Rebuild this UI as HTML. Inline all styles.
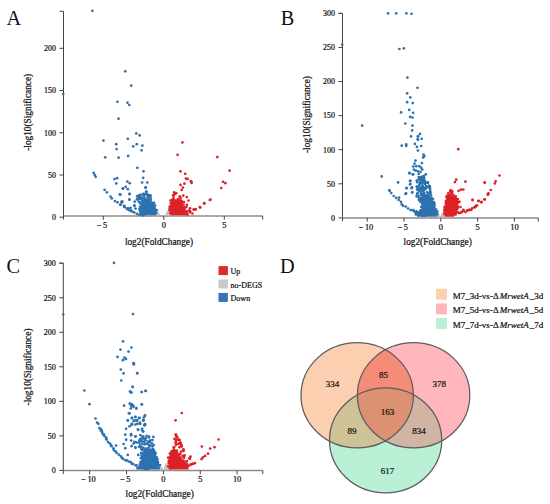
<!DOCTYPE html>
<html><head><meta charset="utf-8"><style>
html,body{margin:0;padding:0;background:#fff;}
svg{display:block;font-family:"Liberation Serif",serif;} text{fill:#111;stroke:#111;stroke-width:0.22px;}
</style></head><body>
<svg width="550" height="504" viewBox="0 0 550 504">
<rect width="550" height="504" fill="#fff"/>
<text x="6.60" y="25.20" font-size="20.3" text-anchor="start" style="stroke-width:0">A</text>
<line x1="63.50" y1="11.30" x2="63.50" y2="216.50" stroke="#444" stroke-width="1.0"/>
<line x1="59.50" y1="11.30" x2="63.50" y2="11.30" stroke="#444" stroke-width="1.0"/>
<line x1="59.50" y1="217.20" x2="63.50" y2="217.20" stroke="#444" stroke-width="1.0"/>
<text x="56.00" y="220.00" font-size="8" text-anchor="end" >0</text>
<line x1="59.50" y1="174.97" x2="63.50" y2="174.97" stroke="#444" stroke-width="1.0"/>
<text x="56.00" y="177.78" font-size="8" text-anchor="end" >50</text>
<line x1="59.50" y1="132.75" x2="63.50" y2="132.75" stroke="#444" stroke-width="1.0"/>
<text x="56.00" y="135.55" font-size="8" text-anchor="end" >100</text>
<line x1="59.50" y1="90.52" x2="63.50" y2="90.52" stroke="#444" stroke-width="1.0"/>
<text x="56.00" y="93.32" font-size="8" text-anchor="end" >150</text>
<line x1="59.50" y1="48.30" x2="63.50" y2="48.30" stroke="#444" stroke-width="1.0"/>
<text x="56.00" y="51.10" font-size="8" text-anchor="end" >200</text>
<line x1="63.50" y1="216.00" x2="262.70" y2="216.00" stroke="#8a8a8a" stroke-width="1.5"/>
<line x1="262.70" y1="216.00" x2="262.70" y2="219.50" stroke="#444" stroke-width="1.0"/>
<line x1="63.50" y1="216.00" x2="63.50" y2="219.50" stroke="#444" stroke-width="1.0"/>
<line x1="103.30" y1="216.00" x2="103.30" y2="219.80" stroke="#444" stroke-width="1.0"/>
<text x="102.10" y="227.70" font-size="8.4" text-anchor="middle" >&#8722;<tspan dx="1.4">5</tspan></text>
<line x1="163.80" y1="216.00" x2="163.80" y2="219.80" stroke="#444" stroke-width="1.0"/>
<text x="163.80" y="227.70" font-size="8.4" text-anchor="middle" >0</text>
<line x1="224.30" y1="216.00" x2="224.30" y2="219.80" stroke="#444" stroke-width="1.0"/>
<text x="224.30" y="227.70" font-size="8.4" text-anchor="middle" >5</text>
<text x="124.90" y="244.60" font-size="9.3" text-anchor="start" >log2(FoldChange)</text>
<text x="30.7" y="112.3" font-size="9.3" text-anchor="middle" transform="rotate(-90 30.7 112.3)">-log10(Significance)</text>
<text x="280.70" y="25.00" font-size="20.3" text-anchor="start" style="stroke-width:0">B</text>
<line x1="342.50" y1="13.40" x2="342.50" y2="218.40" stroke="#444" stroke-width="1.0"/>
<line x1="338.50" y1="13.40" x2="342.50" y2="13.40" stroke="#444" stroke-width="1.0"/>
<line x1="338.50" y1="217.90" x2="342.50" y2="217.90" stroke="#444" stroke-width="1.0"/>
<text x="335.00" y="220.70" font-size="8" text-anchor="end" >0</text>
<line x1="338.50" y1="183.81" x2="342.50" y2="183.81" stroke="#444" stroke-width="1.0"/>
<text x="335.00" y="186.62" font-size="8" text-anchor="end" >50</text>
<line x1="338.50" y1="149.73" x2="342.50" y2="149.73" stroke="#444" stroke-width="1.0"/>
<text x="335.00" y="152.53" font-size="8" text-anchor="end" >100</text>
<line x1="338.50" y1="115.65" x2="342.50" y2="115.65" stroke="#444" stroke-width="1.0"/>
<text x="335.00" y="118.45" font-size="8" text-anchor="end" >150</text>
<line x1="338.50" y1="81.56" x2="342.50" y2="81.56" stroke="#444" stroke-width="1.0"/>
<text x="335.00" y="84.36" font-size="8" text-anchor="end" >200</text>
<line x1="338.50" y1="47.48" x2="342.50" y2="47.48" stroke="#444" stroke-width="1.0"/>
<text x="335.00" y="50.28" font-size="8" text-anchor="end" >250</text>
<line x1="338.50" y1="13.39" x2="342.50" y2="13.39" stroke="#444" stroke-width="1.0"/>
<text x="335.00" y="16.19" font-size="8" text-anchor="end" >300</text>
<line x1="342.50" y1="217.90" x2="538.20" y2="217.90" stroke="#8a8a8a" stroke-width="1.5"/>
<line x1="538.20" y1="217.90" x2="538.20" y2="221.40" stroke="#444" stroke-width="1.0"/>
<line x1="342.50" y1="217.90" x2="342.50" y2="221.40" stroke="#444" stroke-width="1.0"/>
<line x1="367.20" y1="217.90" x2="367.20" y2="221.70" stroke="#444" stroke-width="1.0"/>
<text x="366.00" y="229.60" font-size="8.4" text-anchor="middle" >&#8722;<tspan dx="1.4">10</tspan></text>
<line x1="404.00" y1="217.90" x2="404.00" y2="221.70" stroke="#444" stroke-width="1.0"/>
<text x="402.80" y="229.60" font-size="8.4" text-anchor="middle" >&#8722;<tspan dx="1.4">5</tspan></text>
<line x1="440.80" y1="217.90" x2="440.80" y2="221.70" stroke="#444" stroke-width="1.0"/>
<text x="440.80" y="229.60" font-size="8.4" text-anchor="middle" >0</text>
<line x1="477.60" y1="217.90" x2="477.60" y2="221.70" stroke="#444" stroke-width="1.0"/>
<text x="477.60" y="229.60" font-size="8.4" text-anchor="middle" >5</text>
<line x1="514.40" y1="217.90" x2="514.40" y2="221.70" stroke="#444" stroke-width="1.0"/>
<text x="514.40" y="229.60" font-size="8.4" text-anchor="middle" >10</text>
<text x="403.60" y="244.50" font-size="9.3" text-anchor="start" >log2(FoldChange)</text>
<text x="309.9" y="114.5" font-size="9.3" text-anchor="middle" transform="rotate(-90 309.9 114.5)">-log10(Significance)</text>
<text x="6.50" y="273.10" font-size="20.3" text-anchor="start" style="stroke-width:0">C</text>
<line x1="63.30" y1="263.20" x2="63.30" y2="471.10" stroke="#444" stroke-width="1.0"/>
<line x1="59.30" y1="263.20" x2="63.30" y2="263.20" stroke="#444" stroke-width="1.0"/>
<line x1="59.30" y1="470.40" x2="63.30" y2="470.40" stroke="#444" stroke-width="1.0"/>
<text x="55.80" y="473.20" font-size="8" text-anchor="end" >0</text>
<line x1="59.30" y1="435.87" x2="63.30" y2="435.87" stroke="#444" stroke-width="1.0"/>
<text x="55.80" y="438.67" font-size="8" text-anchor="end" >50</text>
<line x1="59.30" y1="401.33" x2="63.30" y2="401.33" stroke="#444" stroke-width="1.0"/>
<text x="55.80" y="404.13" font-size="8" text-anchor="end" >100</text>
<line x1="59.30" y1="366.79" x2="63.30" y2="366.79" stroke="#444" stroke-width="1.0"/>
<text x="55.80" y="369.59" font-size="8" text-anchor="end" >150</text>
<line x1="59.30" y1="332.26" x2="63.30" y2="332.26" stroke="#444" stroke-width="1.0"/>
<text x="55.80" y="335.06" font-size="8" text-anchor="end" >200</text>
<line x1="59.30" y1="297.73" x2="63.30" y2="297.73" stroke="#444" stroke-width="1.0"/>
<text x="55.80" y="300.53" font-size="8" text-anchor="end" >250</text>
<line x1="59.30" y1="263.19" x2="63.30" y2="263.19" stroke="#444" stroke-width="1.0"/>
<text x="55.80" y="265.99" font-size="8" text-anchor="end" >300</text>
<line x1="63.30" y1="470.60" x2="262.80" y2="470.60" stroke="#8a8a8a" stroke-width="1.5"/>
<line x1="262.80" y1="470.60" x2="262.80" y2="474.10" stroke="#444" stroke-width="1.0"/>
<line x1="63.30" y1="470.60" x2="63.30" y2="474.10" stroke="#444" stroke-width="1.0"/>
<line x1="89.70" y1="470.60" x2="89.70" y2="474.40" stroke="#444" stroke-width="1.0"/>
<text x="88.50" y="482.30" font-size="8.4" text-anchor="middle" >&#8722;<tspan dx="1.4">10</tspan></text>
<line x1="126.55" y1="470.60" x2="126.55" y2="474.40" stroke="#444" stroke-width="1.0"/>
<text x="125.35" y="482.30" font-size="8.4" text-anchor="middle" >&#8722;<tspan dx="1.4">5</tspan></text>
<line x1="163.40" y1="470.60" x2="163.40" y2="474.40" stroke="#444" stroke-width="1.0"/>
<text x="163.40" y="482.30" font-size="8.4" text-anchor="middle" >0</text>
<line x1="200.25" y1="470.60" x2="200.25" y2="474.40" stroke="#444" stroke-width="1.0"/>
<text x="200.25" y="482.30" font-size="8.4" text-anchor="middle" >5</text>
<line x1="237.10" y1="470.60" x2="237.10" y2="474.40" stroke="#444" stroke-width="1.0"/>
<text x="237.10" y="482.30" font-size="8.4" text-anchor="middle" >10</text>
<text x="125.60" y="497.00" font-size="9.3" text-anchor="start" >log2(FoldChange)</text>
<text x="30.6" y="367.0" font-size="9.3" text-anchor="middle" transform="rotate(-90 30.6 367.0)">-log10(Significance)</text>
<g id="plots">
<polygon points="156.0,208.5 158.5,212.0 161.0,215.5 156.0,215.5" fill="#c4c4c4"/>
<polygon points="170.0,205.5 170.0,215.5 164.8,215.5 167.0,211.0" fill="#c4c4c4"/>
<polygon points="437.1,213.0 440.3,216.0 443.0,211.5 445.0,209.5 445.0,217.3 437.1,217.3" fill="#c4c4c4"/>
<polygon points="159.5,465.0 163.5,469.0 165.5,463.5 167.5,462.0 168.5,468.3 174.0,468.3 174.0,470.2 159.5,470.2" fill="#c4c4c4"/>
<polygon points="140.5,207.0 142.1,200.8 144.5,198.8 147.8,198.3 151.1,199.8 153.6,202.9 155.5,206.0 156.1,210.0 156.3,215.3 140.0,215.3 139.5,212.0" fill="#2d71ae"/>
<circle cx="140.0" cy="206.8" r="1.35" fill="#2d71ae"/>
<circle cx="140.7" cy="204.1" r="1.35" fill="#2d71ae"/>
<circle cx="141.9" cy="200.9" r="1.35" fill="#2d71ae"/>
<circle cx="144.5" cy="198.2" r="1.35" fill="#2d71ae"/>
<circle cx="147.7" cy="197.7" r="1.35" fill="#2d71ae"/>
<circle cx="150.5" cy="199.2" r="1.35" fill="#2d71ae"/>
<circle cx="154.1" cy="202.8" r="1.35" fill="#2d71ae"/>
<circle cx="155.1" cy="205.5" r="1.35" fill="#2d71ae"/>
<circle cx="156.7" cy="210.2" r="1.35" fill="#2d71ae"/>
<circle cx="156.1" cy="212.8" r="1.35" fill="#2d71ae"/>
<circle cx="140.0" cy="211.4" r="1.35" fill="#2d71ae"/>
<circle cx="139.5" cy="209.2" r="1.35" fill="#2d71ae"/>
<circle cx="138.8" cy="197.7" r="1.35" fill="#2d71ae"/>
<circle cx="149.6" cy="195.9" r="1.35" fill="#2d71ae"/>
<circle cx="140.2" cy="202.7" r="1.35" fill="#2d71ae"/>
<circle cx="143.6" cy="197.7" r="1.35" fill="#2d71ae"/>
<circle cx="147.8" cy="196.8" r="1.35" fill="#2d71ae"/>
<circle cx="138.8" cy="199.1" r="1.35" fill="#2d71ae"/>
<circle cx="148.7" cy="195.6" r="1.35" fill="#2d71ae"/>
<circle cx="144.6" cy="194.0" r="1.35" fill="#2d71ae"/>
<circle cx="147.3" cy="194.3" r="1.35" fill="#2d71ae"/>
<circle cx="141.4" cy="198.7" r="1.35" fill="#2d71ae"/>
<circle cx="144.2" cy="195.8" r="1.35" fill="#2d71ae"/>
<circle cx="148.9" cy="195.2" r="1.35" fill="#2d71ae"/>
<circle cx="140.8" cy="198.8" r="1.35" fill="#2d71ae"/>
<circle cx="150.4" cy="197.3" r="1.35" fill="#2d71ae"/>
<circle cx="143.4" cy="198.3" r="1.35" fill="#2d71ae"/>
<circle cx="139.3" cy="195.9" r="1.35" fill="#2d71ae"/>
<circle cx="140.6" cy="196.7" r="1.35" fill="#2d71ae"/>
<circle cx="143.5" cy="198.5" r="1.35" fill="#2d71ae"/>
<circle cx="143.2" cy="194.9" r="1.35" fill="#2d71ae"/>
<circle cx="124.6" cy="207.2" r="1.35" fill="#2d71ae"/>
<circle cx="127.0" cy="208.9" r="1.35" fill="#2d71ae"/>
<circle cx="128.7" cy="210.0" r="1.35" fill="#2d71ae"/>
<circle cx="130.2" cy="210.6" r="1.35" fill="#2d71ae"/>
<circle cx="132.0" cy="211.6" r="1.35" fill="#2d71ae"/>
<circle cx="134.2" cy="212.4" r="1.35" fill="#2d71ae"/>
<circle cx="136.8" cy="213.8" r="1.35" fill="#2d71ae"/>
<circle cx="139.2" cy="214.6" r="1.35" fill="#2d71ae"/>
<circle cx="141.6" cy="214.8" r="1.35" fill="#2d71ae"/>
<circle cx="143.5" cy="215.5" r="1.35" fill="#2d71ae"/>
<circle cx="92.4" cy="10.8" r="1.35" fill="#2d71ae"/>
<circle cx="63.2" cy="94.0" r="1.35" fill="#2d71ae"/>
<circle cx="125.3" cy="71.3" r="1.35" fill="#2d71ae"/>
<circle cx="131.2" cy="85.6" r="1.35" fill="#2d71ae"/>
<circle cx="117.4" cy="101.8" r="1.35" fill="#2d71ae"/>
<circle cx="127.5" cy="102.7" r="1.35" fill="#2d71ae"/>
<circle cx="129.3" cy="105.0" r="1.35" fill="#2d71ae"/>
<circle cx="118.5" cy="118.7" r="1.35" fill="#2d71ae"/>
<circle cx="136.3" cy="133.4" r="1.35" fill="#2d71ae"/>
<circle cx="139.6" cy="135.4" r="1.35" fill="#2d71ae"/>
<circle cx="127.8" cy="138.8" r="1.35" fill="#2d71ae"/>
<circle cx="103.4" cy="140.6" r="1.35" fill="#2d71ae"/>
<circle cx="116.2" cy="144.2" r="1.35" fill="#2d71ae"/>
<circle cx="116.6" cy="149.1" r="1.35" fill="#2d71ae"/>
<circle cx="136.8" cy="144.2" r="1.35" fill="#2d71ae"/>
<circle cx="133.2" cy="146.3" r="1.35" fill="#2d71ae"/>
<circle cx="142.4" cy="145.6" r="1.35" fill="#2d71ae"/>
<circle cx="141.6" cy="150.3" r="1.35" fill="#2d71ae"/>
<circle cx="105.2" cy="157.3" r="1.35" fill="#2d71ae"/>
<circle cx="118.6" cy="157.7" r="1.35" fill="#2d71ae"/>
<circle cx="128.1" cy="155.9" r="1.35" fill="#2d71ae"/>
<circle cx="137.3" cy="167.8" r="1.35" fill="#2d71ae"/>
<circle cx="143.5" cy="171.3" r="1.35" fill="#2d71ae"/>
<circle cx="93.6" cy="172.9" r="1.35" fill="#2d71ae"/>
<circle cx="94.8" cy="175.0" r="1.35" fill="#2d71ae"/>
<circle cx="95.7" cy="176.8" r="1.35" fill="#2d71ae"/>
<circle cx="114.5" cy="179.1" r="1.35" fill="#2d71ae"/>
<circle cx="117.1" cy="178.2" r="1.35" fill="#2d71ae"/>
<circle cx="116.3" cy="183.4" r="1.35" fill="#2d71ae"/>
<circle cx="143.2" cy="177.8" r="1.35" fill="#2d71ae"/>
<circle cx="127.3" cy="181.6" r="1.35" fill="#2d71ae"/>
<circle cx="129.7" cy="183.2" r="1.35" fill="#2d71ae"/>
<circle cx="142.1" cy="182.5" r="1.35" fill="#2d71ae"/>
<circle cx="147.3" cy="182.5" r="1.35" fill="#2d71ae"/>
<circle cx="145.8" cy="187.3" r="1.35" fill="#2d71ae"/>
<circle cx="125.7" cy="186.8" r="1.35" fill="#2d71ae"/>
<circle cx="123.0" cy="188.4" r="1.35" fill="#2d71ae"/>
<circle cx="127.8" cy="189.2" r="1.35" fill="#2d71ae"/>
<circle cx="104.6" cy="189.8" r="1.35" fill="#2d71ae"/>
<circle cx="106.9" cy="192.3" r="1.35" fill="#2d71ae"/>
<circle cx="146.3" cy="191.6" r="1.35" fill="#2d71ae"/>
<circle cx="119.8" cy="194.4" r="1.35" fill="#2d71ae"/>
<circle cx="129.7" cy="194.0" r="1.35" fill="#2d71ae"/>
<circle cx="110.5" cy="196.5" r="1.35" fill="#2d71ae"/>
<circle cx="111.8" cy="198.4" r="1.35" fill="#2d71ae"/>
<circle cx="137.6" cy="196.3" r="1.35" fill="#2d71ae"/>
<circle cx="129.4" cy="199.5" r="1.35" fill="#2d71ae"/>
<circle cx="115.0" cy="201.1" r="1.35" fill="#2d71ae"/>
<circle cx="117.6" cy="202.3" r="1.35" fill="#2d71ae"/>
<circle cx="121.7" cy="201.6" r="1.35" fill="#2d71ae"/>
<circle cx="120.2" cy="204.8" r="1.35" fill="#2d71ae"/>
<circle cx="124.1" cy="205.9" r="1.35" fill="#2d71ae"/>
<circle cx="128.1" cy="208.3" r="1.35" fill="#2d71ae"/>
<circle cx="134.4" cy="205.9" r="1.35" fill="#2d71ae"/>
<circle cx="140.5" cy="194.7" r="1.35" fill="#2d71ae"/>
<circle cx="143.3" cy="193.9" r="1.35" fill="#2d71ae"/>
<circle cx="146.2" cy="194.5" r="1.35" fill="#2d71ae"/>
<circle cx="150.7" cy="195.5" r="1.35" fill="#2d71ae"/>
<circle cx="134.7" cy="201.7" r="1.35" fill="#2d71ae"/>
<circle cx="138.8" cy="201.7" r="1.35" fill="#2d71ae"/>
<circle cx="134.3" cy="205.4" r="1.35" fill="#2d71ae"/>
<circle cx="135.5" cy="208.6" r="1.35" fill="#2d71ae"/>
<circle cx="129.4" cy="199.6" r="1.35" fill="#2d71ae"/>
<circle cx="129.4" cy="193.9" r="1.35" fill="#2d71ae"/>
<circle cx="146.2" cy="191.9" r="1.35" fill="#2d71ae"/>
<circle cx="145.4" cy="187.8" r="1.35" fill="#2d71ae"/>
<circle cx="122.9" cy="188.6" r="1.35" fill="#2d71ae"/>
<circle cx="120.4" cy="194.7" r="1.35" fill="#2d71ae"/>
<circle cx="122.5" cy="201.7" r="1.35" fill="#2d71ae"/>
<circle cx="121.6" cy="202.5" r="1.35" fill="#2d71ae"/>
<circle cx="120.8" cy="204.5" r="1.35" fill="#2d71ae"/>
<circle cx="124.1" cy="206.2" r="1.35" fill="#2d71ae"/>
<circle cx="127.4" cy="208.6" r="1.35" fill="#2d71ae"/>
<circle cx="130.6" cy="207.8" r="1.35" fill="#2d71ae"/>
<circle cx="131.5" cy="210.7" r="1.35" fill="#2d71ae"/>
<circle cx="137.2" cy="196.2" r="1.35" fill="#2d71ae"/>
<circle cx="139.1" cy="195.5" r="1.35" fill="#2d71ae"/>
<circle cx="136.9" cy="199.4" r="1.35" fill="#2d71ae"/>
<polygon points="170.2,215.3 170.2,204.0 171.0,200.5 174.0,199.5 178.0,199.0 181.0,200.5 183.0,205.0 186.0,211.0 187.5,215.3" fill="#de2127"/>
<circle cx="170.2" cy="213.0" r="1.35" fill="#de2127"/>
<circle cx="169.6" cy="210.2" r="1.35" fill="#de2127"/>
<circle cx="169.9" cy="208.3" r="1.35" fill="#de2127"/>
<circle cx="169.7" cy="206.7" r="1.35" fill="#de2127"/>
<circle cx="170.8" cy="203.3" r="1.35" fill="#de2127"/>
<circle cx="170.5" cy="200.5" r="1.35" fill="#de2127"/>
<circle cx="173.3" cy="199.6" r="1.35" fill="#de2127"/>
<circle cx="178.7" cy="199.0" r="1.35" fill="#de2127"/>
<circle cx="181.3" cy="201.0" r="1.35" fill="#de2127"/>
<circle cx="181.8" cy="202.4" r="1.35" fill="#de2127"/>
<circle cx="183.4" cy="204.5" r="1.35" fill="#de2127"/>
<circle cx="184.4" cy="207.0" r="1.35" fill="#de2127"/>
<circle cx="184.6" cy="208.8" r="1.35" fill="#de2127"/>
<circle cx="186.7" cy="211.4" r="1.35" fill="#de2127"/>
<circle cx="187.2" cy="213.6" r="1.35" fill="#de2127"/>
<circle cx="180.4" cy="200.5" r="1.35" fill="#de2127"/>
<circle cx="173.6" cy="198.4" r="1.35" fill="#de2127"/>
<circle cx="175.1" cy="193.8" r="1.35" fill="#de2127"/>
<circle cx="173.5" cy="195.7" r="1.35" fill="#de2127"/>
<circle cx="173.3" cy="195.4" r="1.35" fill="#de2127"/>
<circle cx="180.7" cy="198.1" r="1.35" fill="#de2127"/>
<circle cx="172.0" cy="199.8" r="1.35" fill="#de2127"/>
<circle cx="181.5" cy="200.9" r="1.35" fill="#de2127"/>
<circle cx="187.3" cy="214.5" r="1.35" fill="#de2127"/>
<circle cx="182.4" cy="142.4" r="1.35" fill="#de2127"/>
<circle cx="177.6" cy="154.8" r="1.35" fill="#de2127"/>
<circle cx="217.3" cy="157.1" r="1.35" fill="#de2127"/>
<circle cx="180.5" cy="171.4" r="1.35" fill="#de2127"/>
<circle cx="185.2" cy="173.8" r="1.35" fill="#de2127"/>
<circle cx="186.0" cy="178.6" r="1.35" fill="#de2127"/>
<circle cx="187.6" cy="178.9" r="1.35" fill="#de2127"/>
<circle cx="190.8" cy="181.0" r="1.35" fill="#de2127"/>
<circle cx="191.6" cy="182.9" r="1.35" fill="#de2127"/>
<circle cx="180.5" cy="184.9" r="1.35" fill="#de2127"/>
<circle cx="184.4" cy="183.7" r="1.35" fill="#de2127"/>
<circle cx="182.9" cy="187.6" r="1.35" fill="#de2127"/>
<circle cx="181.6" cy="190.0" r="1.35" fill="#de2127"/>
<circle cx="174.1" cy="192.4" r="1.35" fill="#de2127"/>
<circle cx="176.2" cy="193.2" r="1.35" fill="#de2127"/>
<circle cx="173.3" cy="195.2" r="1.35" fill="#de2127"/>
<circle cx="179.7" cy="196.3" r="1.35" fill="#de2127"/>
<circle cx="183.2" cy="195.6" r="1.35" fill="#de2127"/>
<circle cx="186.8" cy="197.1" r="1.35" fill="#de2127"/>
<circle cx="209.8" cy="200.0" r="1.35" fill="#de2127"/>
<circle cx="204.3" cy="203.5" r="1.35" fill="#de2127"/>
<circle cx="186.8" cy="204.8" r="1.35" fill="#de2127"/>
<circle cx="200.3" cy="207.5" r="1.35" fill="#de2127"/>
<circle cx="195.6" cy="209.5" r="1.35" fill="#de2127"/>
<circle cx="194.0" cy="209.5" r="1.35" fill="#de2127"/>
<circle cx="190.0" cy="208.3" r="1.35" fill="#de2127"/>
<circle cx="190.0" cy="212.2" r="1.35" fill="#de2127"/>
<circle cx="229.6" cy="170.7" r="1.35" fill="#de2127"/>
<circle cx="223.0" cy="181.8" r="1.35" fill="#de2127"/>
<circle cx="225.4" cy="183.2" r="1.35" fill="#de2127"/>
<circle cx="221.3" cy="188.0" r="1.35" fill="#de2127"/>
<circle cx="191.4" cy="181.8" r="1.35" fill="#de2127"/>
<circle cx="210.5" cy="199.6" r="1.35" fill="#de2127"/>
<circle cx="204.3" cy="203.2" r="1.35" fill="#de2127"/>
<circle cx="199.8" cy="207.1" r="1.35" fill="#de2127"/>
<circle cx="195.7" cy="209.1" r="1.35" fill="#de2127"/>
<circle cx="193.6" cy="209.5" r="1.35" fill="#de2127"/>
<circle cx="190.0" cy="211.2" r="1.35" fill="#de2127"/>
<circle cx="188.5" cy="200.5" r="1.35" fill="#de2127"/>
<circle cx="186.5" cy="207.0" r="1.35" fill="#de2127"/>
<circle cx="184.0" cy="202.0" r="1.35" fill="#de2127"/>
<circle cx="178.0" cy="199.0" r="1.35" fill="#de2127"/>
<circle cx="189.0" cy="210.5" r="1.35" fill="#de2127"/>
<circle cx="192.4" cy="213.5" r="1.35" fill="#de2127"/>
<polygon points="418.5,200.6 423.3,195.9 428.8,194.3 431.2,197.5 433.6,201.4 435.2,206.2 436.7,211.7 437.1,216.8 416.9,216.8 416.9,211.7 420.9,210.2 422.5,203.8" fill="#2d71ae"/>
<circle cx="418.9" cy="200.1" r="1.35" fill="#2d71ae"/>
<circle cx="420.5" cy="198.8" r="1.35" fill="#2d71ae"/>
<circle cx="421.6" cy="198.1" r="1.35" fill="#2d71ae"/>
<circle cx="423.9" cy="195.8" r="1.35" fill="#2d71ae"/>
<circle cx="425.6" cy="195.4" r="1.35" fill="#2d71ae"/>
<circle cx="428.3" cy="193.8" r="1.35" fill="#2d71ae"/>
<circle cx="431.6" cy="198.1" r="1.35" fill="#2d71ae"/>
<circle cx="432.9" cy="199.0" r="1.35" fill="#2d71ae"/>
<circle cx="433.8" cy="202.1" r="1.35" fill="#2d71ae"/>
<circle cx="434.5" cy="203.6" r="1.35" fill="#2d71ae"/>
<circle cx="434.5" cy="205.7" r="1.35" fill="#2d71ae"/>
<circle cx="436.2" cy="209.6" r="1.35" fill="#2d71ae"/>
<circle cx="437.3" cy="211.7" r="1.35" fill="#2d71ae"/>
<circle cx="437.4" cy="214.2" r="1.35" fill="#2d71ae"/>
<circle cx="416.6" cy="213.8" r="1.35" fill="#2d71ae"/>
<circle cx="416.5" cy="211.4" r="1.35" fill="#2d71ae"/>
<circle cx="420.6" cy="210.3" r="1.35" fill="#2d71ae"/>
<circle cx="421.2" cy="206.9" r="1.35" fill="#2d71ae"/>
<circle cx="422.3" cy="204.4" r="1.35" fill="#2d71ae"/>
<circle cx="420.6" cy="202.1" r="1.35" fill="#2d71ae"/>
<circle cx="429.8" cy="186.3" r="1.35" fill="#2d71ae"/>
<circle cx="430.0" cy="188.3" r="1.35" fill="#2d71ae"/>
<circle cx="424.5" cy="188.9" r="1.35" fill="#2d71ae"/>
<circle cx="417.2" cy="186.8" r="1.35" fill="#2d71ae"/>
<circle cx="423.7" cy="193.8" r="1.35" fill="#2d71ae"/>
<circle cx="424.9" cy="184.0" r="1.35" fill="#2d71ae"/>
<circle cx="424.3" cy="189.7" r="1.35" fill="#2d71ae"/>
<circle cx="424.9" cy="182.1" r="1.35" fill="#2d71ae"/>
<circle cx="420.9" cy="195.0" r="1.35" fill="#2d71ae"/>
<circle cx="424.2" cy="189.8" r="1.35" fill="#2d71ae"/>
<circle cx="423.2" cy="191.1" r="1.35" fill="#2d71ae"/>
<circle cx="424.1" cy="188.6" r="1.35" fill="#2d71ae"/>
<circle cx="426.8" cy="187.1" r="1.35" fill="#2d71ae"/>
<circle cx="424.5" cy="187.8" r="1.35" fill="#2d71ae"/>
<circle cx="430.4" cy="193.2" r="1.35" fill="#2d71ae"/>
<circle cx="420.6" cy="189.8" r="1.35" fill="#2d71ae"/>
<circle cx="418.9" cy="179.0" r="1.35" fill="#2d71ae"/>
<circle cx="423.2" cy="177.8" r="1.35" fill="#2d71ae"/>
<circle cx="420.3" cy="177.8" r="1.35" fill="#2d71ae"/>
<circle cx="426.5" cy="195.3" r="1.35" fill="#2d71ae"/>
<circle cx="427.1" cy="192.2" r="1.35" fill="#2d71ae"/>
<circle cx="418.9" cy="197.7" r="1.35" fill="#2d71ae"/>
<circle cx="423.1" cy="188.7" r="1.35" fill="#2d71ae"/>
<circle cx="421.7" cy="180.8" r="1.35" fill="#2d71ae"/>
<circle cx="421.5" cy="193.8" r="1.35" fill="#2d71ae"/>
<circle cx="417.2" cy="189.6" r="1.35" fill="#2d71ae"/>
<circle cx="423.2" cy="176.4" r="1.35" fill="#2d71ae"/>
<circle cx="421.6" cy="191.3" r="1.35" fill="#2d71ae"/>
<circle cx="424.2" cy="177.6" r="1.35" fill="#2d71ae"/>
<circle cx="431.0" cy="195.4" r="1.35" fill="#2d71ae"/>
<circle cx="428.0" cy="182.7" r="1.35" fill="#2d71ae"/>
<circle cx="418.8" cy="186.4" r="1.35" fill="#2d71ae"/>
<circle cx="420.6" cy="179.7" r="1.35" fill="#2d71ae"/>
<circle cx="430.0" cy="190.0" r="1.35" fill="#2d71ae"/>
<circle cx="417.7" cy="192.9" r="1.35" fill="#2d71ae"/>
<circle cx="423.0" cy="177.8" r="1.35" fill="#2d71ae"/>
<circle cx="430.3" cy="191.6" r="1.35" fill="#2d71ae"/>
<circle cx="429.2" cy="187.2" r="1.35" fill="#2d71ae"/>
<circle cx="421.7" cy="189.6" r="1.35" fill="#2d71ae"/>
<circle cx="418.7" cy="189.0" r="1.35" fill="#2d71ae"/>
<circle cx="420.3" cy="178.7" r="1.35" fill="#2d71ae"/>
<circle cx="419.8" cy="183.7" r="1.35" fill="#2d71ae"/>
<circle cx="421.3" cy="194.7" r="1.35" fill="#2d71ae"/>
<circle cx="421.0" cy="188.3" r="1.35" fill="#2d71ae"/>
<circle cx="419.4" cy="184.5" r="1.35" fill="#2d71ae"/>
<circle cx="417.2" cy="182.2" r="1.35" fill="#2d71ae"/>
<circle cx="417.1" cy="194.0" r="1.35" fill="#2d71ae"/>
<circle cx="424.8" cy="180.7" r="1.35" fill="#2d71ae"/>
<circle cx="418.4" cy="196.1" r="1.35" fill="#2d71ae"/>
<circle cx="423.1" cy="188.2" r="1.35" fill="#2d71ae"/>
<circle cx="428.8" cy="185.7" r="1.35" fill="#2d71ae"/>
<circle cx="424.1" cy="192.9" r="1.35" fill="#2d71ae"/>
<circle cx="428.8" cy="193.4" r="1.35" fill="#2d71ae"/>
<circle cx="426.0" cy="186.0" r="1.35" fill="#2d71ae"/>
<circle cx="421.9" cy="177.3" r="1.35" fill="#2d71ae"/>
<circle cx="427.5" cy="182.3" r="1.35" fill="#2d71ae"/>
<circle cx="426.5" cy="182.9" r="1.35" fill="#2d71ae"/>
<circle cx="420.4" cy="183.2" r="1.35" fill="#2d71ae"/>
<circle cx="423.5" cy="179.9" r="1.35" fill="#2d71ae"/>
<circle cx="423.3" cy="182.5" r="1.35" fill="#2d71ae"/>
<circle cx="424.7" cy="182.0" r="1.35" fill="#2d71ae"/>
<circle cx="422.4" cy="187.7" r="1.35" fill="#2d71ae"/>
<circle cx="424.1" cy="180.9" r="1.35" fill="#2d71ae"/>
<circle cx="420.7" cy="178.2" r="1.35" fill="#2d71ae"/>
<circle cx="389.5" cy="190.3" r="1.35" fill="#2d71ae"/>
<circle cx="391.3" cy="193.1" r="1.35" fill="#2d71ae"/>
<circle cx="393.7" cy="196.0" r="1.35" fill="#2d71ae"/>
<circle cx="396.2" cy="197.9" r="1.35" fill="#2d71ae"/>
<circle cx="398.6" cy="200.0" r="1.35" fill="#2d71ae"/>
<circle cx="400.9" cy="201.9" r="1.35" fill="#2d71ae"/>
<circle cx="401.8" cy="204.3" r="1.35" fill="#2d71ae"/>
<circle cx="403.1" cy="205.8" r="1.35" fill="#2d71ae"/>
<circle cx="405.7" cy="206.6" r="1.35" fill="#2d71ae"/>
<circle cx="408.1" cy="208.5" r="1.35" fill="#2d71ae"/>
<circle cx="410.8" cy="210.2" r="1.35" fill="#2d71ae"/>
<circle cx="413.9" cy="211.1" r="1.35" fill="#2d71ae"/>
<circle cx="415.3" cy="212.5" r="1.35" fill="#2d71ae"/>
<circle cx="417.3" cy="213.8" r="1.35" fill="#2d71ae"/>
<circle cx="419.8" cy="214.6" r="1.35" fill="#2d71ae"/>
<circle cx="422.4" cy="215.7" r="1.35" fill="#2d71ae"/>
<circle cx="424.2" cy="215.5" r="1.35" fill="#2d71ae"/>
<circle cx="425.5" cy="215.7" r="1.35" fill="#2d71ae"/>
<circle cx="388.1" cy="13.3" r="1.35" fill="#2d71ae"/>
<circle cx="396.2" cy="13.3" r="1.35" fill="#2d71ae"/>
<circle cx="406.4" cy="13.3" r="1.35" fill="#2d71ae"/>
<circle cx="411.5" cy="13.8" r="1.35" fill="#2d71ae"/>
<circle cx="399.4" cy="49.0" r="1.35" fill="#2d71ae"/>
<circle cx="403.8" cy="48.3" r="1.35" fill="#2d71ae"/>
<circle cx="342.2" cy="44.5" r="1.35" fill="#2d71ae"/>
<circle cx="407.4" cy="77.6" r="1.35" fill="#2d71ae"/>
<circle cx="417.5" cy="87.8" r="1.35" fill="#2d71ae"/>
<circle cx="407.1" cy="93.3" r="1.35" fill="#2d71ae"/>
<circle cx="410.3" cy="97.4" r="1.35" fill="#2d71ae"/>
<circle cx="407.1" cy="102.2" r="1.35" fill="#2d71ae"/>
<circle cx="412.8" cy="103.1" r="1.35" fill="#2d71ae"/>
<circle cx="409.3" cy="109.9" r="1.35" fill="#2d71ae"/>
<circle cx="413.1" cy="112.8" r="1.35" fill="#2d71ae"/>
<circle cx="401.1" cy="112.4" r="1.35" fill="#2d71ae"/>
<circle cx="410.1" cy="116.9" r="1.35" fill="#2d71ae"/>
<circle cx="412.4" cy="117.5" r="1.35" fill="#2d71ae"/>
<circle cx="405.3" cy="123.5" r="1.35" fill="#2d71ae"/>
<circle cx="412.5" cy="125.6" r="1.35" fill="#2d71ae"/>
<circle cx="412.1" cy="130.4" r="1.35" fill="#2d71ae"/>
<circle cx="420.0" cy="133.9" r="1.35" fill="#2d71ae"/>
<circle cx="411.0" cy="136.4" r="1.35" fill="#2d71ae"/>
<circle cx="417.9" cy="136.4" r="1.35" fill="#2d71ae"/>
<circle cx="421.7" cy="138.8" r="1.35" fill="#2d71ae"/>
<circle cx="417.8" cy="139.2" r="1.35" fill="#2d71ae"/>
<circle cx="362.2" cy="125.6" r="1.35" fill="#2d71ae"/>
<circle cx="381.7" cy="176.4" r="1.35" fill="#2d71ae"/>
<circle cx="418.1" cy="136.2" r="1.35" fill="#2d71ae"/>
<circle cx="417.9" cy="139.8" r="1.35" fill="#2d71ae"/>
<circle cx="401.7" cy="145.7" r="1.35" fill="#2d71ae"/>
<circle cx="406.2" cy="144.3" r="1.35" fill="#2d71ae"/>
<circle cx="406.2" cy="146.0" r="1.35" fill="#2d71ae"/>
<circle cx="414.9" cy="143.9" r="1.35" fill="#2d71ae"/>
<circle cx="416.9" cy="146.9" r="1.35" fill="#2d71ae"/>
<circle cx="421.1" cy="146.0" r="1.35" fill="#2d71ae"/>
<circle cx="417.9" cy="150.5" r="1.35" fill="#2d71ae"/>
<circle cx="423.5" cy="154.6" r="1.35" fill="#2d71ae"/>
<circle cx="424.3" cy="156.2" r="1.35" fill="#2d71ae"/>
<circle cx="423.1" cy="157.4" r="1.35" fill="#2d71ae"/>
<circle cx="415.5" cy="160.6" r="1.35" fill="#2d71ae"/>
<circle cx="414.5" cy="163.6" r="1.35" fill="#2d71ae"/>
<circle cx="421.9" cy="163.1" r="1.35" fill="#2d71ae"/>
<circle cx="413.3" cy="166.5" r="1.35" fill="#2d71ae"/>
<circle cx="416.3" cy="166.2" r="1.35" fill="#2d71ae"/>
<circle cx="419.3" cy="166.2" r="1.35" fill="#2d71ae"/>
<circle cx="421.1" cy="167.7" r="1.35" fill="#2d71ae"/>
<circle cx="422.3" cy="169.5" r="1.35" fill="#2d71ae"/>
<circle cx="413.9" cy="169.5" r="1.35" fill="#2d71ae"/>
<circle cx="415.7" cy="170.7" r="1.35" fill="#2d71ae"/>
<circle cx="418.1" cy="171.3" r="1.35" fill="#2d71ae"/>
<circle cx="420.5" cy="171.9" r="1.35" fill="#2d71ae"/>
<circle cx="409.8" cy="173.3" r="1.35" fill="#2d71ae"/>
<circle cx="413.1" cy="174.3" r="1.35" fill="#2d71ae"/>
<circle cx="418.7" cy="174.0" r="1.35" fill="#2d71ae"/>
<circle cx="425.8" cy="174.3" r="1.35" fill="#2d71ae"/>
<circle cx="398.1" cy="182.4" r="1.35" fill="#2d71ae"/>
<circle cx="410.4" cy="180.8" r="1.35" fill="#2d71ae"/>
<circle cx="410.4" cy="183.8" r="1.35" fill="#2d71ae"/>
<circle cx="406.8" cy="188.0" r="1.35" fill="#2d71ae"/>
<circle cx="412.1" cy="187.4" r="1.35" fill="#2d71ae"/>
<circle cx="412.1" cy="192.1" r="1.35" fill="#2d71ae"/>
<circle cx="405.6" cy="193.9" r="1.35" fill="#2d71ae"/>
<circle cx="399.1" cy="197.6" r="1.35" fill="#2d71ae"/>
<circle cx="406.4" cy="188.2" r="1.35" fill="#2d71ae"/>
<circle cx="406.1" cy="193.3" r="1.35" fill="#2d71ae"/>
<circle cx="410.0" cy="180.9" r="1.35" fill="#2d71ae"/>
<circle cx="410.0" cy="184.5" r="1.35" fill="#2d71ae"/>
<circle cx="411.5" cy="188.2" r="1.35" fill="#2d71ae"/>
<circle cx="412.2" cy="192.5" r="1.35" fill="#2d71ae"/>
<circle cx="409.3" cy="172.9" r="1.35" fill="#2d71ae"/>
<circle cx="412.9" cy="174.4" r="1.35" fill="#2d71ae"/>
<circle cx="413.2" cy="210.0" r="1.35" fill="#2d71ae"/>
<circle cx="415.9" cy="214.5" r="1.35" fill="#2d71ae"/>
<circle cx="389.6" cy="190.8" r="1.35" fill="#2d71ae"/>
<polygon points="445.1,207.8 446.7,195.9 449.9,195.1 456.3,196.7 458.6,202.2 457.8,206.2 457.0,211.7 453.9,216.8 444.7,216.8" fill="#de2127"/>
<circle cx="444.5" cy="207.6" r="1.35" fill="#de2127"/>
<circle cx="445.5" cy="205.9" r="1.35" fill="#de2127"/>
<circle cx="445.9" cy="203.2" r="1.35" fill="#de2127"/>
<circle cx="446.0" cy="200.9" r="1.35" fill="#de2127"/>
<circle cx="446.8" cy="197.6" r="1.35" fill="#de2127"/>
<circle cx="446.7" cy="196.2" r="1.35" fill="#de2127"/>
<circle cx="450.1" cy="195.1" r="1.35" fill="#de2127"/>
<circle cx="453.4" cy="195.3" r="1.35" fill="#de2127"/>
<circle cx="455.7" cy="196.4" r="1.35" fill="#de2127"/>
<circle cx="457.8" cy="199.1" r="1.35" fill="#de2127"/>
<circle cx="458.9" cy="201.8" r="1.35" fill="#de2127"/>
<circle cx="457.8" cy="206.9" r="1.35" fill="#de2127"/>
<circle cx="457.4" cy="208.8" r="1.35" fill="#de2127"/>
<circle cx="457.4" cy="212.0" r="1.35" fill="#de2127"/>
<circle cx="455.6" cy="214.4" r="1.35" fill="#de2127"/>
<circle cx="444.5" cy="214.1" r="1.35" fill="#de2127"/>
<circle cx="444.6" cy="212.6" r="1.35" fill="#de2127"/>
<circle cx="444.3" cy="210.1" r="1.35" fill="#de2127"/>
<circle cx="452.2" cy="194.0" r="1.35" fill="#de2127"/>
<circle cx="452.2" cy="191.4" r="1.35" fill="#de2127"/>
<circle cx="450.9" cy="192.5" r="1.35" fill="#de2127"/>
<circle cx="450.5" cy="190.3" r="1.35" fill="#de2127"/>
<circle cx="450.3" cy="191.2" r="1.35" fill="#de2127"/>
<circle cx="448.3" cy="195.6" r="1.35" fill="#de2127"/>
<circle cx="448.3" cy="193.3" r="1.35" fill="#de2127"/>
<circle cx="455.9" cy="212.5" r="1.35" fill="#de2127"/>
<circle cx="459.9" cy="212.9" r="1.35" fill="#de2127"/>
<circle cx="461.7" cy="212.0" r="1.35" fill="#de2127"/>
<circle cx="463.8" cy="210.8" r="1.35" fill="#de2127"/>
<circle cx="465.5" cy="212.1" r="1.35" fill="#de2127"/>
<circle cx="467.7" cy="210.3" r="1.35" fill="#de2127"/>
<circle cx="469.2" cy="209.8" r="1.35" fill="#de2127"/>
<circle cx="472.1" cy="208.4" r="1.35" fill="#de2127"/>
<circle cx="474.9" cy="206.8" r="1.35" fill="#de2127"/>
<circle cx="458.3" cy="149.2" r="1.35" fill="#de2127"/>
<circle cx="456.2" cy="179.7" r="1.35" fill="#de2127"/>
<circle cx="454.9" cy="182.1" r="1.35" fill="#de2127"/>
<circle cx="465.4" cy="181.7" r="1.35" fill="#de2127"/>
<circle cx="484.8" cy="182.5" r="1.35" fill="#de2127"/>
<circle cx="451.1" cy="190.8" r="1.35" fill="#de2127"/>
<circle cx="458.6" cy="190.8" r="1.35" fill="#de2127"/>
<circle cx="461.0" cy="189.7" r="1.35" fill="#de2127"/>
<circle cx="463.3" cy="189.5" r="1.35" fill="#de2127"/>
<circle cx="472.5" cy="200.0" r="1.35" fill="#de2127"/>
<circle cx="478.4" cy="200.8" r="1.35" fill="#de2127"/>
<circle cx="481.6" cy="201.9" r="1.35" fill="#de2127"/>
<circle cx="484.8" cy="199.5" r="1.35" fill="#de2127"/>
<circle cx="487.9" cy="194.0" r="1.35" fill="#de2127"/>
<circle cx="476.0" cy="205.9" r="1.35" fill="#de2127"/>
<circle cx="474.4" cy="207.5" r="1.35" fill="#de2127"/>
<circle cx="469.7" cy="209.8" r="1.35" fill="#de2127"/>
<circle cx="467.3" cy="210.6" r="1.35" fill="#de2127"/>
<circle cx="463.3" cy="209.8" r="1.35" fill="#de2127"/>
<circle cx="461.7" cy="212.2" r="1.35" fill="#de2127"/>
<circle cx="458.6" cy="213.0" r="1.35" fill="#de2127"/>
<circle cx="459.4" cy="201.9" r="1.35" fill="#de2127"/>
<circle cx="457.8" cy="206.7" r="1.35" fill="#de2127"/>
<circle cx="499.5" cy="175.5" r="1.35" fill="#de2127"/>
<circle cx="495.6" cy="181.4" r="1.35" fill="#de2127"/>
<circle cx="494.8" cy="183.5" r="1.35" fill="#de2127"/>
<circle cx="484.6" cy="182.6" r="1.35" fill="#de2127"/>
<circle cx="490.8" cy="190.0" r="1.35" fill="#de2127"/>
<circle cx="488.5" cy="193.3" r="1.35" fill="#de2127"/>
<circle cx="487.9" cy="194.8" r="1.35" fill="#de2127"/>
<circle cx="484.6" cy="199.3" r="1.35" fill="#de2127"/>
<circle cx="481.3" cy="202.3" r="1.35" fill="#de2127"/>
<circle cx="478.6" cy="201.1" r="1.35" fill="#de2127"/>
<circle cx="472.6" cy="199.9" r="1.35" fill="#de2127"/>
<circle cx="477.1" cy="205.5" r="1.35" fill="#de2127"/>
<circle cx="475.4" cy="207.0" r="1.35" fill="#de2127"/>
<circle cx="471.2" cy="210.0" r="1.35" fill="#de2127"/>
<circle cx="453.0" cy="197.0" r="1.35" fill="#de2127"/>
<circle cx="455.5" cy="199.0" r="1.35" fill="#de2127"/>
<circle cx="452.0" cy="193.0" r="1.35" fill="#de2127"/>
<circle cx="457.0" cy="203.5" r="1.35" fill="#de2127"/>
<circle cx="460.5" cy="207.0" r="1.35" fill="#de2127"/>
<polygon points="143.8,449.8 147.7,448.8 153.7,449.8 155.7,453.8 157.7,459.7 159.6,465.7 160.1,469.6 136.0,469.6 139.8,464.7 142.8,457.7" fill="#2d71ae"/>
<circle cx="144.3" cy="449.5" r="1.35" fill="#2d71ae"/>
<circle cx="148.1" cy="448.1" r="1.35" fill="#2d71ae"/>
<circle cx="150.2" cy="449.8" r="1.35" fill="#2d71ae"/>
<circle cx="154.0" cy="450.4" r="1.35" fill="#2d71ae"/>
<circle cx="154.4" cy="452.4" r="1.35" fill="#2d71ae"/>
<circle cx="155.6" cy="453.6" r="1.35" fill="#2d71ae"/>
<circle cx="156.8" cy="457.4" r="1.35" fill="#2d71ae"/>
<circle cx="157.6" cy="459.5" r="1.35" fill="#2d71ae"/>
<circle cx="158.0" cy="462.4" r="1.35" fill="#2d71ae"/>
<circle cx="160.1" cy="465.1" r="1.35" fill="#2d71ae"/>
<circle cx="137.5" cy="467.8" r="1.35" fill="#2d71ae"/>
<circle cx="139.8" cy="464.4" r="1.35" fill="#2d71ae"/>
<circle cx="140.6" cy="461.9" r="1.35" fill="#2d71ae"/>
<circle cx="142.3" cy="460.7" r="1.35" fill="#2d71ae"/>
<circle cx="143.0" cy="458.1" r="1.35" fill="#2d71ae"/>
<circle cx="143.8" cy="455.6" r="1.35" fill="#2d71ae"/>
<circle cx="143.8" cy="452.5" r="1.35" fill="#2d71ae"/>
<circle cx="148.1" cy="441.5" r="1.35" fill="#2d71ae"/>
<circle cx="140.0" cy="445.7" r="1.35" fill="#2d71ae"/>
<circle cx="143.4" cy="441.8" r="1.35" fill="#2d71ae"/>
<circle cx="142.1" cy="449.9" r="1.35" fill="#2d71ae"/>
<circle cx="142.7" cy="447.7" r="1.35" fill="#2d71ae"/>
<circle cx="144.2" cy="438.8" r="1.35" fill="#2d71ae"/>
<circle cx="140.5" cy="439.7" r="1.35" fill="#2d71ae"/>
<circle cx="152.2" cy="446.3" r="1.35" fill="#2d71ae"/>
<circle cx="141.5" cy="455.6" r="1.35" fill="#2d71ae"/>
<circle cx="153.6" cy="445.2" r="1.35" fill="#2d71ae"/>
<circle cx="140.2" cy="439.4" r="1.35" fill="#2d71ae"/>
<circle cx="139.4" cy="442.8" r="1.35" fill="#2d71ae"/>
<circle cx="139.4" cy="440.4" r="1.35" fill="#2d71ae"/>
<circle cx="142.1" cy="447.9" r="1.35" fill="#2d71ae"/>
<circle cx="144.5" cy="444.4" r="1.35" fill="#2d71ae"/>
<circle cx="146.2" cy="443.6" r="1.35" fill="#2d71ae"/>
<circle cx="143.3" cy="436.4" r="1.35" fill="#2d71ae"/>
<circle cx="142.4" cy="457.0" r="1.35" fill="#2d71ae"/>
<circle cx="140.0" cy="446.4" r="1.35" fill="#2d71ae"/>
<circle cx="141.4" cy="441.2" r="1.35" fill="#2d71ae"/>
<circle cx="141.9" cy="444.1" r="1.35" fill="#2d71ae"/>
<circle cx="145.4" cy="448.3" r="1.35" fill="#2d71ae"/>
<circle cx="141.9" cy="437.5" r="1.35" fill="#2d71ae"/>
<circle cx="140.4" cy="446.9" r="1.35" fill="#2d71ae"/>
<circle cx="149.3" cy="449.7" r="1.35" fill="#2d71ae"/>
<circle cx="150.0" cy="445.4" r="1.35" fill="#2d71ae"/>
<circle cx="146.7" cy="435.9" r="1.35" fill="#2d71ae"/>
<circle cx="150.3" cy="440.3" r="1.35" fill="#2d71ae"/>
<circle cx="152.4" cy="449.7" r="1.35" fill="#2d71ae"/>
<circle cx="142.8" cy="437.9" r="1.35" fill="#2d71ae"/>
<circle cx="142.0" cy="449.4" r="1.35" fill="#2d71ae"/>
<circle cx="149.0" cy="437.5" r="1.35" fill="#2d71ae"/>
<circle cx="139.1" cy="446.9" r="1.35" fill="#2d71ae"/>
<circle cx="147.2" cy="443.8" r="1.35" fill="#2d71ae"/>
<circle cx="141.5" cy="448.6" r="1.35" fill="#2d71ae"/>
<circle cx="145.5" cy="440.3" r="1.35" fill="#2d71ae"/>
<circle cx="149.1" cy="442.0" r="1.35" fill="#2d71ae"/>
<circle cx="148.6" cy="444.5" r="1.35" fill="#2d71ae"/>
<circle cx="142.0" cy="450.1" r="1.35" fill="#2d71ae"/>
<circle cx="152.5" cy="440.1" r="1.35" fill="#2d71ae"/>
<circle cx="138.5" cy="442.7" r="1.35" fill="#2d71ae"/>
<circle cx="141.1" cy="453.1" r="1.35" fill="#2d71ae"/>
<circle cx="149.6" cy="446.5" r="1.35" fill="#2d71ae"/>
<circle cx="142.9" cy="453.6" r="1.35" fill="#2d71ae"/>
<circle cx="141.6" cy="440.0" r="1.35" fill="#2d71ae"/>
<circle cx="149.9" cy="441.7" r="1.35" fill="#2d71ae"/>
<circle cx="100.5" cy="428.8" r="1.35" fill="#2d71ae"/>
<circle cx="100.8" cy="430.5" r="1.35" fill="#2d71ae"/>
<circle cx="102.2" cy="432.9" r="1.35" fill="#2d71ae"/>
<circle cx="103.8" cy="434.3" r="1.35" fill="#2d71ae"/>
<circle cx="104.4" cy="436.1" r="1.35" fill="#2d71ae"/>
<circle cx="106.1" cy="437.7" r="1.35" fill="#2d71ae"/>
<circle cx="106.3" cy="439.3" r="1.35" fill="#2d71ae"/>
<circle cx="107.9" cy="441.8" r="1.35" fill="#2d71ae"/>
<circle cx="109.7" cy="443.3" r="1.35" fill="#2d71ae"/>
<circle cx="111.0" cy="445.2" r="1.35" fill="#2d71ae"/>
<circle cx="111.6" cy="446.2" r="1.35" fill="#2d71ae"/>
<circle cx="113.5" cy="448.4" r="1.35" fill="#2d71ae"/>
<circle cx="113.8" cy="450.1" r="1.35" fill="#2d71ae"/>
<circle cx="115.5" cy="451.4" r="1.35" fill="#2d71ae"/>
<circle cx="116.7" cy="452.9" r="1.35" fill="#2d71ae"/>
<circle cx="118.9" cy="454.7" r="1.35" fill="#2d71ae"/>
<circle cx="121.0" cy="456.3" r="1.35" fill="#2d71ae"/>
<circle cx="122.0" cy="457.9" r="1.35" fill="#2d71ae"/>
<circle cx="123.3" cy="459.0" r="1.35" fill="#2d71ae"/>
<circle cx="125.6" cy="460.3" r="1.35" fill="#2d71ae"/>
<circle cx="126.9" cy="460.3" r="1.35" fill="#2d71ae"/>
<circle cx="128.7" cy="461.5" r="1.35" fill="#2d71ae"/>
<circle cx="130.8" cy="462.2" r="1.35" fill="#2d71ae"/>
<circle cx="131.9" cy="463.7" r="1.35" fill="#2d71ae"/>
<circle cx="133.2" cy="464.1" r="1.35" fill="#2d71ae"/>
<circle cx="135.7" cy="465.3" r="1.35" fill="#2d71ae"/>
<circle cx="136.6" cy="465.4" r="1.35" fill="#2d71ae"/>
<circle cx="139.1" cy="467.4" r="1.35" fill="#2d71ae"/>
<circle cx="141.8" cy="468.2" r="1.35" fill="#2d71ae"/>
<circle cx="144.4" cy="468.2" r="1.35" fill="#2d71ae"/>
<circle cx="145.8" cy="469.3" r="1.35" fill="#2d71ae"/>
<circle cx="148.1" cy="469.0" r="1.35" fill="#2d71ae"/>
<circle cx="114.0" cy="262.9" r="1.35" fill="#2d71ae"/>
<circle cx="63.2" cy="314.5" r="1.35" fill="#2d71ae"/>
<circle cx="133.0" cy="314.1" r="1.35" fill="#2d71ae"/>
<circle cx="123.1" cy="341.3" r="1.35" fill="#2d71ae"/>
<circle cx="131.4" cy="347.5" r="1.35" fill="#2d71ae"/>
<circle cx="120.5" cy="349.6" r="1.35" fill="#2d71ae"/>
<circle cx="128.5" cy="351.6" r="1.35" fill="#2d71ae"/>
<circle cx="117.5" cy="356.9" r="1.35" fill="#2d71ae"/>
<circle cx="124.4" cy="357.6" r="1.35" fill="#2d71ae"/>
<circle cx="126.0" cy="359.0" r="1.35" fill="#2d71ae"/>
<circle cx="122.9" cy="360.2" r="1.35" fill="#2d71ae"/>
<circle cx="133.7" cy="363.2" r="1.35" fill="#2d71ae"/>
<circle cx="133.9" cy="364.4" r="1.35" fill="#2d71ae"/>
<circle cx="120.8" cy="369.5" r="1.35" fill="#2d71ae"/>
<circle cx="123.6" cy="373.3" r="1.35" fill="#2d71ae"/>
<circle cx="137.3" cy="373.3" r="1.35" fill="#2d71ae"/>
<circle cx="121.2" cy="380.5" r="1.35" fill="#2d71ae"/>
<circle cx="132.7" cy="386.8" r="1.35" fill="#2d71ae"/>
<circle cx="130.0" cy="391.5" r="1.35" fill="#2d71ae"/>
<circle cx="131.5" cy="392.6" r="1.35" fill="#2d71ae"/>
<circle cx="141.7" cy="392.0" r="1.35" fill="#2d71ae"/>
<circle cx="145.8" cy="391.0" r="1.35" fill="#2d71ae"/>
<circle cx="84.4" cy="390.5" r="1.35" fill="#2d71ae"/>
<circle cx="89.5" cy="404.2" r="1.35" fill="#2d71ae"/>
<circle cx="95.5" cy="418.5" r="1.35" fill="#2d71ae"/>
<circle cx="97.1" cy="422.6" r="1.35" fill="#2d71ae"/>
<circle cx="98.3" cy="423.8" r="1.35" fill="#2d71ae"/>
<circle cx="99.3" cy="428.0" r="1.35" fill="#2d71ae"/>
<circle cx="101.4" cy="430.0" r="1.35" fill="#2d71ae"/>
<circle cx="101.9" cy="431.2" r="1.35" fill="#2d71ae"/>
<circle cx="103.2" cy="434.4" r="1.35" fill="#2d71ae"/>
<circle cx="106.4" cy="438.9" r="1.35" fill="#2d71ae"/>
<circle cx="130.4" cy="392.0" r="1.35" fill="#2d71ae"/>
<circle cx="141.8" cy="392.0" r="1.35" fill="#2d71ae"/>
<circle cx="145.5" cy="390.8" r="1.35" fill="#2d71ae"/>
<circle cx="124.1" cy="405.7" r="1.35" fill="#2d71ae"/>
<circle cx="130.0" cy="403.8" r="1.35" fill="#2d71ae"/>
<circle cx="131.2" cy="406.0" r="1.35" fill="#2d71ae"/>
<circle cx="133.4" cy="406.9" r="1.35" fill="#2d71ae"/>
<circle cx="136.3" cy="408.2" r="1.35" fill="#2d71ae"/>
<circle cx="141.8" cy="404.3" r="1.35" fill="#2d71ae"/>
<circle cx="129.5" cy="413.3" r="1.35" fill="#2d71ae"/>
<circle cx="132.0" cy="417.8" r="1.35" fill="#2d71ae"/>
<circle cx="135.4" cy="417.0" r="1.35" fill="#2d71ae"/>
<circle cx="139.6" cy="417.8" r="1.35" fill="#2d71ae"/>
<circle cx="144.7" cy="416.1" r="1.35" fill="#2d71ae"/>
<circle cx="143.5" cy="420.0" r="1.35" fill="#2d71ae"/>
<circle cx="127.8" cy="420.4" r="1.35" fill="#2d71ae"/>
<circle cx="133.7" cy="421.2" r="1.35" fill="#2d71ae"/>
<circle cx="137.1" cy="420.4" r="1.35" fill="#2d71ae"/>
<circle cx="139.6" cy="423.7" r="1.35" fill="#2d71ae"/>
<circle cx="135.4" cy="424.6" r="1.35" fill="#2d71ae"/>
<circle cx="129.5" cy="426.3" r="1.35" fill="#2d71ae"/>
<circle cx="132.0" cy="424.6" r="1.35" fill="#2d71ae"/>
<circle cx="144.7" cy="425.4" r="1.35" fill="#2d71ae"/>
<circle cx="126.1" cy="428.8" r="1.35" fill="#2d71ae"/>
<circle cx="137.9" cy="429.6" r="1.35" fill="#2d71ae"/>
<circle cx="142.2" cy="428.8" r="1.35" fill="#2d71ae"/>
<circle cx="143.0" cy="431.3" r="1.35" fill="#2d71ae"/>
<circle cx="125.3" cy="434.7" r="1.35" fill="#2d71ae"/>
<circle cx="131.2" cy="435.5" r="1.35" fill="#2d71ae"/>
<circle cx="135.4" cy="436.4" r="1.35" fill="#2d71ae"/>
<circle cx="140.5" cy="435.2" r="1.35" fill="#2d71ae"/>
<circle cx="126.1" cy="439.7" r="1.35" fill="#2d71ae"/>
<circle cx="131.2" cy="440.6" r="1.35" fill="#2d71ae"/>
<circle cx="133.7" cy="443.6" r="1.35" fill="#2d71ae"/>
<circle cx="136.3" cy="442.3" r="1.35" fill="#2d71ae"/>
<circle cx="123.6" cy="444.0" r="1.35" fill="#2d71ae"/>
<circle cx="135.4" cy="447.3" r="1.35" fill="#2d71ae"/>
<circle cx="125.3" cy="448.2" r="1.35" fill="#2d71ae"/>
<circle cx="127.8" cy="454.9" r="1.35" fill="#2d71ae"/>
<circle cx="116.0" cy="445.6" r="1.35" fill="#2d71ae"/>
<circle cx="125.7" cy="358.9" r="1.35" fill="#2d71ae"/>
<circle cx="133.6" cy="363.3" r="1.35" fill="#2d71ae"/>
<circle cx="137.2" cy="373.1" r="1.35" fill="#2d71ae"/>
<circle cx="132.6" cy="387.0" r="1.35" fill="#2d71ae"/>
<circle cx="130.3" cy="391.8" r="1.35" fill="#2d71ae"/>
<circle cx="129.9" cy="403.6" r="1.35" fill="#2d71ae"/>
<circle cx="131.9" cy="404.3" r="1.35" fill="#2d71ae"/>
<circle cx="133.3" cy="405.7" r="1.35" fill="#2d71ae"/>
<circle cx="141.9" cy="404.3" r="1.35" fill="#2d71ae"/>
<circle cx="130.8" cy="408.5" r="1.35" fill="#2d71ae"/>
<circle cx="136.4" cy="408.5" r="1.35" fill="#2d71ae"/>
<circle cx="128.9" cy="413.3" r="1.35" fill="#2d71ae"/>
<circle cx="145.1" cy="415.4" r="1.35" fill="#2d71ae"/>
<circle cx="143.8" cy="417.5" r="1.35" fill="#2d71ae"/>
<circle cx="135.4" cy="416.8" r="1.35" fill="#2d71ae"/>
<circle cx="131.9" cy="418.2" r="1.35" fill="#2d71ae"/>
<circle cx="138.9" cy="418.2" r="1.35" fill="#2d71ae"/>
<circle cx="127.8" cy="420.3" r="1.35" fill="#2d71ae"/>
<circle cx="134.7" cy="420.3" r="1.35" fill="#2d71ae"/>
<circle cx="136.8" cy="420.3" r="1.35" fill="#2d71ae"/>
<circle cx="143.1" cy="420.3" r="1.35" fill="#2d71ae"/>
<circle cx="131.9" cy="423.8" r="1.35" fill="#2d71ae"/>
<circle cx="140.3" cy="423.8" r="1.35" fill="#2d71ae"/>
<circle cx="145.1" cy="424.2" r="1.35" fill="#2d71ae"/>
<circle cx="134.4" cy="420.5" r="1.35" fill="#2d71ae"/>
<circle cx="139.8" cy="422.7" r="1.35" fill="#2d71ae"/>
<circle cx="143.6" cy="420.5" r="1.35" fill="#2d71ae"/>
<circle cx="144.2" cy="424.9" r="1.35" fill="#2d71ae"/>
<circle cx="137.1" cy="423.8" r="1.35" fill="#2d71ae"/>
<circle cx="131.6" cy="424.9" r="1.35" fill="#2d71ae"/>
<circle cx="138.2" cy="429.8" r="1.35" fill="#2d71ae"/>
<circle cx="142.0" cy="429.8" r="1.35" fill="#2d71ae"/>
<circle cx="143.1" cy="431.5" r="1.35" fill="#2d71ae"/>
<circle cx="131.1" cy="434.2" r="1.35" fill="#2d71ae"/>
<circle cx="135.5" cy="436.4" r="1.35" fill="#2d71ae"/>
<circle cx="134.4" cy="441.8" r="1.35" fill="#2d71ae"/>
<circle cx="131.6" cy="446.2" r="1.35" fill="#2d71ae"/>
<circle cx="135.5" cy="447.8" r="1.35" fill="#2d71ae"/>
<circle cx="151.8" cy="443.4" r="1.35" fill="#2d71ae"/>
<circle cx="153.4" cy="436.9" r="1.35" fill="#2d71ae"/>
<circle cx="152.9" cy="448.9" r="1.35" fill="#2d71ae"/>
<circle cx="155.1" cy="452.7" r="1.35" fill="#2d71ae"/>
<circle cx="138.2" cy="454.9" r="1.35" fill="#2d71ae"/>
<circle cx="140.9" cy="458.2" r="1.35" fill="#2d71ae"/>
<circle cx="146.0" cy="438.0" r="1.35" fill="#2d71ae"/>
<circle cx="149.0" cy="436.5" r="1.35" fill="#2d71ae"/>
<circle cx="144.0" cy="442.0" r="1.35" fill="#2d71ae"/>
<polygon points="168.6,469.6 168.4,463.5 168.9,457.0 171.0,450.8 173.9,447.8 176.9,450.8 178.8,454.8 181.8,459.7 185.8,462.7 187.8,466.7 188.8,469.6" fill="#de2127"/>
<circle cx="168.2" cy="466.3" r="1.35" fill="#de2127"/>
<circle cx="168.8" cy="462.8" r="1.35" fill="#de2127"/>
<circle cx="168.8" cy="460.8" r="1.35" fill="#de2127"/>
<circle cx="168.2" cy="457.6" r="1.35" fill="#de2127"/>
<circle cx="169.9" cy="453.5" r="1.35" fill="#de2127"/>
<circle cx="171.6" cy="451.4" r="1.35" fill="#de2127"/>
<circle cx="173.6" cy="447.6" r="1.35" fill="#de2127"/>
<circle cx="176.9" cy="450.7" r="1.35" fill="#de2127"/>
<circle cx="177.4" cy="453.4" r="1.35" fill="#de2127"/>
<circle cx="179.1" cy="455.2" r="1.35" fill="#de2127"/>
<circle cx="180.7" cy="457.7" r="1.35" fill="#de2127"/>
<circle cx="181.6" cy="459.9" r="1.35" fill="#de2127"/>
<circle cx="183.6" cy="460.9" r="1.35" fill="#de2127"/>
<circle cx="185.2" cy="463.1" r="1.35" fill="#de2127"/>
<circle cx="187.2" cy="464.3" r="1.35" fill="#de2127"/>
<circle cx="187.2" cy="466.3" r="1.35" fill="#de2127"/>
<circle cx="176.4" cy="436.2" r="1.35" fill="#de2127"/>
<circle cx="174.3" cy="447.0" r="1.35" fill="#de2127"/>
<circle cx="176.0" cy="444.8" r="1.35" fill="#de2127"/>
<circle cx="181.1" cy="451.5" r="1.35" fill="#de2127"/>
<circle cx="182.7" cy="456.0" r="1.35" fill="#de2127"/>
<circle cx="180.4" cy="443.7" r="1.35" fill="#de2127"/>
<circle cx="176.2" cy="440.4" r="1.35" fill="#de2127"/>
<circle cx="180.5" cy="442.5" r="1.35" fill="#de2127"/>
<circle cx="179.6" cy="440.0" r="1.35" fill="#de2127"/>
<circle cx="183.5" cy="451.0" r="1.35" fill="#de2127"/>
<circle cx="183.9" cy="457.8" r="1.35" fill="#de2127"/>
<circle cx="174.5" cy="438.9" r="1.35" fill="#de2127"/>
<circle cx="188.5" cy="466.1" r="1.35" fill="#de2127"/>
<circle cx="190.9" cy="464.5" r="1.35" fill="#de2127"/>
<circle cx="193.1" cy="463.8" r="1.35" fill="#de2127"/>
<circle cx="181.8" cy="413.0" r="1.35" fill="#de2127"/>
<circle cx="175.6" cy="420.3" r="1.35" fill="#de2127"/>
<circle cx="176.0" cy="434.8" r="1.35" fill="#de2127"/>
<circle cx="177.2" cy="437.0" r="1.35" fill="#de2127"/>
<circle cx="175.7" cy="439.6" r="1.35" fill="#de2127"/>
<circle cx="178.9" cy="439.9" r="1.35" fill="#de2127"/>
<circle cx="175.7" cy="442.5" r="1.35" fill="#de2127"/>
<circle cx="178.2" cy="444.0" r="1.35" fill="#de2127"/>
<circle cx="181.1" cy="444.3" r="1.35" fill="#de2127"/>
<circle cx="181.8" cy="446.5" r="1.35" fill="#de2127"/>
<circle cx="179.6" cy="447.2" r="1.35" fill="#de2127"/>
<circle cx="183.3" cy="450.1" r="1.35" fill="#de2127"/>
<circle cx="180.4" cy="453.7" r="1.35" fill="#de2127"/>
<circle cx="184.0" cy="455.9" r="1.35" fill="#de2127"/>
<circle cx="190.5" cy="456.6" r="1.35" fill="#de2127"/>
<circle cx="189.8" cy="458.8" r="1.35" fill="#de2127"/>
<circle cx="186.9" cy="461.0" r="1.35" fill="#de2127"/>
<circle cx="218.6" cy="439.5" r="1.35" fill="#de2127"/>
<circle cx="201.9" cy="446.5" r="1.35" fill="#de2127"/>
<circle cx="214.5" cy="447.2" r="1.35" fill="#de2127"/>
<circle cx="210.2" cy="448.6" r="1.35" fill="#de2127"/>
<circle cx="208.0" cy="453.7" r="1.35" fill="#de2127"/>
<circle cx="205.1" cy="455.9" r="1.35" fill="#de2127"/>
<circle cx="202.9" cy="457.4" r="1.35" fill="#de2127"/>
<circle cx="201.5" cy="459.1" r="1.35" fill="#de2127"/>
<circle cx="194.9" cy="463.2" r="1.35" fill="#de2127"/>
<circle cx="192.7" cy="463.9" r="1.35" fill="#de2127"/>
<circle cx="190.5" cy="464.6" r="1.35" fill="#de2127"/>
<circle cx="175.8" cy="434.7" r="1.35" fill="#de2127"/>
<circle cx="176.9" cy="437.4" r="1.35" fill="#de2127"/>
<circle cx="178.0" cy="439.6" r="1.35" fill="#de2127"/>
<circle cx="175.8" cy="442.4" r="1.35" fill="#de2127"/>
<circle cx="179.6" cy="442.9" r="1.35" fill="#de2127"/>
<circle cx="181.3" cy="445.1" r="1.35" fill="#de2127"/>
<circle cx="183.4" cy="449.4" r="1.35" fill="#de2127"/>
<circle cx="184.5" cy="455.4" r="1.35" fill="#de2127"/>
<circle cx="189.4" cy="458.2" r="1.35" fill="#de2127"/>
<circle cx="186.7" cy="461.4" r="1.35" fill="#de2127"/>
<circle cx="420.7" cy="193.0" r="1.35" fill="#2d71ae"/>
<circle cx="426.0" cy="188.6" r="1.35" fill="#2d71ae"/>
<circle cx="420.0" cy="181.7" r="1.35" fill="#2d71ae"/>
<circle cx="418.8" cy="177.1" r="1.35" fill="#2d71ae"/>
<circle cx="420.6" cy="188.0" r="1.35" fill="#2d71ae"/>
<circle cx="416.7" cy="180.5" r="1.35" fill="#2d71ae"/>
<circle cx="421.5" cy="177.1" r="1.35" fill="#2d71ae"/>
<circle cx="429.2" cy="186.6" r="1.35" fill="#2d71ae"/>
<circle cx="422.8" cy="186.7" r="1.35" fill="#2d71ae"/>
<circle cx="419.1" cy="190.7" r="1.35" fill="#2d71ae"/>
<circle cx="423.1" cy="179.3" r="1.35" fill="#2d71ae"/>
<circle cx="421.4" cy="197.8" r="1.35" fill="#2d71ae"/>
<circle cx="421.5" cy="187.1" r="1.35" fill="#2d71ae"/>
<circle cx="422.2" cy="183.0" r="1.35" fill="#2d71ae"/>
<circle cx="430.3" cy="199.0" r="1.35" fill="#2d71ae"/>
<circle cx="422.3" cy="176.9" r="1.35" fill="#2d71ae"/>
<circle cx="416.6" cy="196.4" r="1.35" fill="#2d71ae"/>
<circle cx="423.3" cy="194.1" r="1.35" fill="#2d71ae"/>
<circle cx="423.0" cy="195.9" r="1.35" fill="#2d71ae"/>
<circle cx="423.9" cy="176.0" r="1.35" fill="#2d71ae"/>
<circle cx="416.7" cy="186.7" r="1.35" fill="#2d71ae"/>
<circle cx="426.8" cy="196.6" r="1.35" fill="#2d71ae"/>
<circle cx="417.9" cy="188.7" r="1.35" fill="#2d71ae"/>
<circle cx="422.4" cy="185.4" r="1.35" fill="#2d71ae"/>
<circle cx="418.8" cy="179.3" r="1.35" fill="#2d71ae"/>
</g>
<rect x="218.5" y="266.10" width="9.4" height="9" fill="#dc2b30"/>
<text x="230.60" y="274.10" font-size="8" text-anchor="start" >Up</text>
<rect x="218.5" y="279.50" width="9.4" height="9" fill="#c8c8c8"/>
<text x="230.60" y="287.50" font-size="8" text-anchor="start" >no-DEGS</text>
<rect x="218.5" y="292.90" width="9.4" height="9" fill="#3373b6"/>
<text x="230.60" y="300.90" font-size="8" text-anchor="start" >Down</text>
<text x="280.00" y="272.90" font-size="20.3" text-anchor="start" style="stroke-width:0">D</text>
<rect x="436" y="288.70" width="11" height="11" fill="#fccfb0"/>
<text x="452.70" y="298.70" font-size="9.05" text-anchor="start" >M7_3d-vs-&#916;<tspan dx="0.9" font-style="italic">MrwetA</tspan><tspan dx="0.9">_3d</tspan></text>
<rect x="436" y="303.40" width="11" height="11" fill="#ffb6bd"/>
<text x="452.70" y="313.40" font-size="9.05" text-anchor="start" >M7_5d-vs-&#916;<tspan dx="0.9" font-style="italic">MrwetA</tspan><tspan dx="0.9">_5d</tspan></text>
<rect x="436" y="318.10" width="11" height="11" fill="#b9f0d6"/>
<text x="452.70" y="328.10" font-size="9.05" text-anchor="start" >M7_7d-vs-&#916;<tspan dx="0.9" font-style="italic">MrwetA</tspan><tspan dx="0.9">_7d</tspan></text>
<defs><clipPath id="c1"><ellipse cx="357.2" cy="395.3" rx="56.2" ry="52.6" fill="none" stroke="none" /></clipPath><clipPath id="c2"><ellipse cx="413.6" cy="395.3" rx="56.2" ry="52.6" fill="none" stroke="none" /></clipPath><clipPath id="c3"><ellipse cx="385.6" cy="440.3" rx="56.1" ry="52.5" fill="none" stroke="none" /></clipPath></defs>
<ellipse cx="357.2" cy="395.3" rx="56.2" ry="52.6" fill="#fccfb0" stroke="none" />
<ellipse cx="413.6" cy="395.3" rx="56.2" ry="52.6" fill="#ffb6bd" stroke="none" />
<ellipse cx="385.6" cy="440.3" rx="56.1" ry="52.5" fill="#b9f0d6" stroke="none" />
<g clip-path="url(#c1)"><ellipse cx="413.6" cy="395.3" rx="56.2" ry="52.6" fill="#f58c78" stroke="none" /><ellipse cx="385.6" cy="440.3" rx="56.1" ry="52.5" fill="#cdc396" stroke="none" /></g>
<g clip-path="url(#c2)"><ellipse cx="385.6" cy="440.3" rx="56.1" ry="52.5" fill="#d2b4a5" stroke="none" /></g>
<g clip-path="url(#c1)"><g clip-path="url(#c2)"><ellipse cx="385.6" cy="440.3" rx="56.1" ry="52.5" fill="#dc9173" stroke="none" /></g></g>
<ellipse cx="357.2" cy="395.3" rx="56.2" ry="52.6" fill="none" stroke="#5c5c5c" stroke-width="1.25"/>
<ellipse cx="413.6" cy="395.3" rx="56.2" ry="52.6" fill="none" stroke="#5c5c5c" stroke-width="1.25"/>
<ellipse cx="385.6" cy="440.3" rx="56.1" ry="52.5" fill="none" stroke="#5c5c5c" stroke-width="1.25"/>
<text x="332.50" y="387.00" font-size="9" text-anchor="middle" >334</text>
<text x="383.50" y="378.00" font-size="9" text-anchor="middle" >85</text>
<text x="439.30" y="387.40" font-size="9" text-anchor="middle" >378</text>
<text x="387.50" y="414.80" font-size="9" text-anchor="middle" >163</text>
<text x="351.90" y="433.70" font-size="9" text-anchor="middle" >89</text>
<text x="419.00" y="433.70" font-size="9" text-anchor="middle" >834</text>
<text x="387.60" y="473.90" font-size="9" text-anchor="middle" >617</text>
</svg></body></html>
